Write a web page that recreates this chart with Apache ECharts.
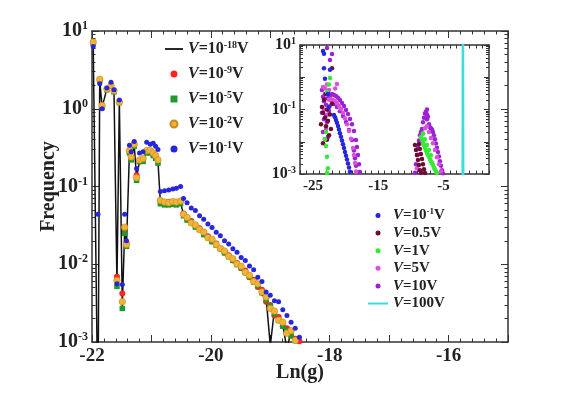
<!DOCTYPE html>
<html>
<head>
<meta charset="utf-8">
<script src="https://cdn.jsdelivr.net/npm/echarts@6/dist/echarts.min.js"></script>
<style>
  html, body { margin: 0; padding: 0; background: #fff; }
  #chart { width: 573px; height: 409px; }
</style>
</head>
<body>
<div id="chart"></div>
<script>
// Ln(g) bins of the main panel
const lnG = [-21.98, -21.9, -21.87, -21.83, -21.75, -21.68, -21.63, -21.58, -21.54, -21.49,
  -21.45, -21.42, -21.37, -21.34, -21.29, -21.25, -21.2, -21.14, -21.08, -21.02,
  -20.97, -20.93, -20.89, -20.85, -20.78, -20.71, -20.64, -20.58, -20.51, -20.46,
  -20.4, -20.33, -20.26, -20.19, -20.12, -20.05, -19.98, -19.91, -19.84, -19.77,
  -19.7, -19.63, -19.56, -19.49, -19.42, -19.35, -19.28, -19.21, -19.14, -19.07,
  -19.0, -18.93, -18.86, -18.79, -18.72, -18.65, -18.58, -18.51];

// frequencies, main panel
const v18 = [7.0, 0.0001, 2.3, 1.05, 1.8, 2.0, 1.7, 0.0055, 1.28, 0.0029,
  0.027, 0.017, 0.28, 0.23, 0.34, 0.13, 0.21, 0.22, 0.28, 0.28,
  0.26, 0.24, 0.21, 0.064, 0.061, 0.061, 0.062, 0.061, 0.063, 0.043,
  0.039, 0.035, 0.031, 0.028, 0.025, 0.022, 0.020, 0.018, 0.0155, 0.0146,
  0.0126, 0.0114, 0.0100, 0.0090, 0.0080, 0.0069, 0.0061, 0.0053, 0.0040, 0.0037,
  0.0009, 0.0026, 0.0019, 0.0017, 0.0008, 0.0014, 0.0009, null];
const v9 = [7.0, null, 2.3, 1.05, 1.8, 2.0, 1.68, 0.0069, 1.24, 0.0042,
  0.028, 0.019, 0.28, 0.23, 0.34, 0.14, 0.21, 0.22, 0.28, 0.28,
  0.26, 0.24, 0.21, 0.065, 0.062, 0.063, 0.063, 0.062, 0.064, 0.045,
  0.038, 0.036, 0.031, 0.029, 0.025, 0.023, 0.0198, 0.0185, 0.0158, 0.0142,
  0.0131, 0.0112, 0.0104, 0.0089, 0.0083, 0.0068, 0.0063, 0.0051, 0.0047, 0.0033,
  0.0030, 0.0022, 0.0021, 0.0016, 0.0015, 0.0012, 0.0011, 0.00102];
const v5 = [7.0, null, 2.3, 1.05, 1.75, 1.95, 1.65, 0.0052, 1.2, 0.0027,
  0.025, 0.017, 0.27, 0.22, 0.33, 0.12, 0.21, 0.21, 0.27, 0.27,
  0.25, 0.23, 0.2, 0.06, 0.058, 0.058, 0.059, 0.058, 0.06, 0.042,
  0.037, 0.035, 0.030, 0.028, 0.024, 0.022, 0.0195, 0.0176, 0.0159, 0.0140,
  0.0125, 0.0113, 0.0099, 0.0090, 0.0078, 0.0069, 0.0059, 0.0053, 0.0043, 0.0035,
  0.0029, 0.0023, 0.0019, 0.0016, 0.0014, 0.0012, 0.00104, null];
const v2 = [7.2, null, 2.4, 1.1, 1.8, 2.0, 1.7, 0.0062, 1.22, 0.0033,
  0.03, 0.018, 0.29, 0.24, 0.35, 0.13, 0.22, 0.23, 0.29, 0.29,
  0.27, 0.25, 0.22, 0.066, 0.063, 0.062, 0.064, 0.063, 0.065, 0.044,
  0.040, 0.034, 0.032, 0.028, 0.026, 0.022, 0.021, 0.018, 0.016, 0.0148,
  0.0127, 0.0118, 0.0101, 0.0094, 0.0079, 0.0072, 0.0060, 0.0056, 0.0044, 0.0038,
  0.0027, 0.0025, 0.0019, 0.0018, 0.0013, 0.0014, 0.00105, null];
const v1 = [6.3, 0.044, 2.1, 1.0, 1.85, 2.2, 1.75, 0.0056, 1.3, 0.0055,
  0.044, 0.02, 0.34, 0.28, 0.38, 0.17, 0.27, 0.28, 0.37, 0.35,
  0.36, 0.33, 0.30, 0.086, 0.088, 0.09, 0.093, 0.095, 0.1, 0.07,
  0.062, 0.053, 0.049, 0.042, 0.038, 0.033, 0.0297, 0.0258, 0.0233, 0.0201,
  0.0182, 0.0158, 0.0143, 0.0122, 0.0112, 0.0095, 0.0085, 0.0068, 0.0060, 0.0044,
  0.0040, 0.0034, 0.0033, 0.0026, 0.0022, 0.0018, 0.0015, 0.00115];

// inset: [Ln(g), frequency]
const insBlue = [[-23.47, 6.5], [-23.32, 5.4], [-23.32, 1.9], [-22.4, 1.7], [-23.17, 0.9],
  [-22.71, 0.3], [-22.55, 0.12],
  [-21.79, 0.068], [-21.63, 0.058], [-21.48, 0.047], [-21.33, 0.039], [-21.17, 0.031],
  [-21.02, 0.024], [-20.87, 0.0185], [-20.71, 0.0142], [-20.56, 0.0109], [-20.4, 0.0083],
  [-20.25, 0.0064], [-20.1, 0.0048], [-19.94, 0.0037], [-19.79, 0.0028], [-19.64, 0.0021],
  [-19.48, 0.0016], [-19.33, 0.00118]];
const insMaroon = [[-23.63, 0.12], [-23.47, 0.08], [-23.32, 0.2], [-23.17, 0.055], [-23.01, 0.03],
  [-22.86, 0.1], [-22.71, 0.045], [-22.55, 0.016], [-22.4, 0.07], [-22.25, 0.025],
  [-22.09, 0.15], [-23.78, 0.035], [-23.47, 0.009], [-22.86, 0.0115], [-22.09, 1.9], [-23.01, 0.3],
  [-9.36, 0.0079], [-9.2, 0.0055], [-9.05, 0.0039], [-8.9, 0.0027], [-8.75, 0.0019],
  [-8.6, 0.0013], [-8.44, 0.0011], [-8.75, 0.0085], [-8.6, 0.006], [-8.44, 0.0042],
  [-8.28, 0.0029], [-8.13, 0.002], [-7.98, 0.0014], [-7.83, 0.00107]];
const insGreen = [[-22.4, 0.95], [-22.55, 0.6], [-22.86, 0.35], [-23.01, 0.0074], [-22.86, 0.0034],
  [-22.71, 0.0015], [-22.86, 0.00107], [-23.17, 0.012], [-23.01, 0.02],
  [-8.44, 0.014], [-8.29, 0.012], [-8.13, 0.0091], [-7.98, 0.0078], [-7.83, 0.0064],
  [-7.67, 0.0054], [-7.52, 0.0045], [-7.37, 0.0039], [-7.21, 0.0034], [-7.06, 0.0029],
  [-6.91, 0.0025], [-6.75, 0.0022], [-6.6, 0.0019], [-6.45, 0.0016], [-6.29, 0.0014],
  [-6.14, 0.0012], [-5.99, 0.00107],
  [-8.13, 0.018], [-7.83, 0.012], [-7.52, 0.008], [-7.21, 0.0055], [-6.91, 0.0038]];
const insMagenta = [[-22.55, 0.2], [-22.25, 0.21], [-21.94, 0.197], [-21.63, 0.184], [-21.33, 0.16],
  [-21.02, 0.128], [-20.71, 0.103], [-20.4, 0.078], [-20.1, 0.054], [-19.79, 0.035],
  [-19.48, 0.0215], [-19.18, 0.0123], [-18.87, 0.0064], [-18.72, 0.0039], [-18.56, 0.0022],
  [-18.41, 0.0012],
  [-23.47, 0.5], [-23.17, 0.45], [-22.86, 0.6], [-22.55, 0.4], [-23.32, 0.1], [-22.71, 0.07],
  [-23.01, 0.025], [-22.4, 0.13], [-21.33, 0.62], [-21.6, 0.45],
  [-9.05, 0.0015], [-8.75, 0.004], [-8.44, 0.009], [-8.13, 0.018], [-7.83, 0.026],
  [-7.52, 0.03], [-7.21, 0.02], [-6.91, 0.013], [-6.6, 0.009], [-6.29, 0.0055],
  [-5.99, 0.0033], [-5.68, 0.002], [-5.37, 0.0012]];
const insPurple = [[-22.86, 8.1], [-22.09, 5.3], [-22.4, 3.4],
  [-22.4, 0.26], [-22.09, 0.3], [-21.79, 0.28], [-21.48, 0.26], [-21.17, 0.23], [-20.87, 0.197],
  [-20.56, 0.16], [-20.25, 0.128], [-19.94, 0.096], [-19.64, 0.072], [-19.33, 0.051],
  [-19.02, 0.035], [-18.72, 0.0215], [-18.41, 0.0113], [-18.26, 0.0069], [-18.1, 0.0039],
  [-17.95, 0.002], [-17.8, 0.00115],
  [-21.79, 0.148], [-21.33, 0.12], [-20.87, 0.089], [-20.4, 0.063], [-19.94, 0.041],
  [-19.48, 0.023], [-19.02, 0.0113], [-18.72, 0.0054], [-18.56, 0.0031], [-18.41, 0.0018],
  [-23.63, 0.4], [-23.47, 0.25], [-23.32, 0.18], [-23.17, 0.3], [-23.01, 0.14], [-22.86, 0.22],
  [-22.71, 0.35], [-22.55, 0.27], [-22.25, 0.2], [-23.63, 0.08], [-23.32, 0.05], [-23.01, 0.065],
  [-22.86, 0.04], [-22.55, 0.09], [-23.47, 0.02], [-23.17, 0.012], [-22.71, 0.014],
  [-9.36, 0.0011], [-9.21, 0.002], [-9.05, 0.0039], [-8.9, 0.0066], [-8.75, 0.011],
  [-8.59, 0.016], [-8.44, 0.02], [-8.29, 0.025], [-8.13, 0.04], [-7.98, 0.055],
  [-7.83, 0.075], [-7.67, 0.085], [-7.52, 0.1], [-7.52, 0.07], [-7.52, 0.05], [-7.37, 0.06],
  [-7.21, 0.035], [-7.06, 0.028], [-6.91, 0.026], [-6.75, 0.024], [-6.6, 0.02],
  [-6.45, 0.016], [-6.29, 0.012], [-6.14, 0.0088], [-5.99, 0.0065], [-5.83, 0.0048],
  [-5.68, 0.0035], [-5.53, 0.0025], [-5.37, 0.0018], [-5.22, 0.0013], [-5.07, 0.00105]];
const insCyan = [[-2.05, 0.0001], [-2.0, 30], [-1.95, 0.0001]];

const legendMain = ['V=10^-18V', 'V=10^-9V', 'V=10^-5V', 'V=10^-2V', 'V=10^-1V'];
const legendInset = ['V=10^-1V', 'V=0.5V', 'V=1V', 'V=5V', 'V=10V', 'V=100V'];

const FONT = '"Liberation Serif", "Times New Roman", serif';
const INK = '#222';
const FRAME = '#333';

function richName(name) {
  const m = name.match(/^V=10\^(-?\d+)V$/);
  if (m) return '{i|V}{t|=10}{s|' + m[1] + '}{t|V}';
  return '{i|V}{t|' + name.slice(1) + '}';
}
function decade(v) {
  return Math.round(Math.log10(v));
}
function richSet(size, supSize) {
  return {
    b: { fontSize: size, fontWeight: 'bold', fontFamily: FONT, color: INK, lineHeight: size + 2 },
    s: { fontSize: supSize, fontWeight: 'bold', fontFamily: FONT, color: INK, verticalAlign: 'top', lineHeight: supSize }
  };
}

// minor log ticks (2..9 in each decade), in exponent units
const minorLogs = [];
for (let e = -3; e < 1; e++) {
  for (let m = 2; m <= 9; m++) minorLogs.push(e + Math.log10(m));
}

const tickStyle = { color: FRAME, width: 1 };
const lineStyle = { color: FRAME, width: 1.5 };

function xAxisPair(grid, min, max, len, labelFn, fontSize, name) {
  const base = {
    gridIndex: grid, type: 'value', min: min, max: max, interval: 1,
    axisLine: { onZero: false, lineStyle: lineStyle },
    axisTick: { inside: true, length: len, lineStyle: tickStyle },
    splitLine: { show: false }
  };
  const bottom = Object.assign({}, base, {
    position: 'bottom',
    axisLabel: {
      formatter: labelFn, fontSize: fontSize, fontWeight: 'bold', fontFamily: FONT,
      color: INK, margin: 5
    }
  });
  const top = Object.assign({}, base, { position: 'top', axisLabel: { show: false } });
  if (grid === 0) {
    bottom.minorTick = { show: true, splitNumber: 5, length: 3.5, lineStyle: tickStyle };
    top.minorTick = { show: true, splitNumber: 5, length: 3.5, lineStyle: tickStyle };
  }
  if (name) {
    bottom.name = name;
    bottom.nameLocation = 'middle';
    bottom.nameGap = 21;
    bottom.nameMoveOverlap = false;
    bottom.nameTextStyle = { fontSize: 20, fontWeight: 'bold', fontFamily: FONT, color: INK };
  }
  return [bottom, top];
}

function yAxes(grid, len, minorLen, labelFn, fontSize, supSize, name) {
  const major = {
    gridIndex: grid, type: 'log', logBase: 10, min: 0.001, max: 10,
    axisLine: { onZero: false, lineStyle: lineStyle },
    axisTick: { inside: true, length: len, lineStyle: tickStyle },
    splitLine: { show: false }
  };
  const left = Object.assign({}, major, {
    position: 'left',
    axisLabel: { formatter: labelFn, rich: richSet(fontSize, supSize), margin: 4 }
  });
  if (name) {
    left.name = name;
    left.nameLocation = 'middle';
    left.nameGap = 33;
    left.nameMoveOverlap = false;
    left.nameTextStyle = { fontSize: 20, fontWeight: 'bold', fontFamily: FONT, color: INK };
  }
  const right = Object.assign({}, major, { position: 'right', axisLabel: { show: false } });
  const minor = {
    gridIndex: grid, type: 'value', min: -3, max: 1,
    axisLine: { show: false, onZero: false },
    axisTick: { inside: true, length: minorLen, lineStyle: tickStyle, customValues: minorLogs },
    axisLabel: { show: false },
    splitLine: { show: false }
  };
  return [left, right,
    Object.assign({}, minor, { position: 'left' }),
    Object.assign({}, minor, { position: 'right' })];
}

const pairs = arr => lnG.map((x, i) => [x, arr[i]]);

function mainScatter(name, data, symbol, size, color, border) {
  return {
    name: name, type: 'scatter', xAxisIndex: 0, yAxisIndex: 0,
    symbol: symbol, symbolSize: size, data: pairs(data),
    itemStyle: { color: color, borderColor: border || color, borderWidth: border ? 0.6 : 0, opacity: 1 }
  };
}
function insetScatter(name, data, color) {
  return {
    name: name, type: 'scatter', xAxisIndex: 2, yAxisIndex: 4,
    symbol: 'circle', symbolSize: 4.5, data: data,
    itemStyle: { color: color, opacity: 1 }
  };
}

const chart = echarts.init(document.getElementById('chart'), null, { renderer: 'canvas' });

const legendText = {
  fontWeight: 'bold', fontFamily: FONT, color: INK
};
function legendRich(size, sup) {
  return {
    i: { fontSize: size, fontWeight: 'bold', fontStyle: 'italic', fontFamily: FONT, color: INK, lineHeight: size + 2 },
    t: { fontSize: size, fontWeight: 'bold', fontFamily: FONT, color: INK, lineHeight: size + 2 },
    s: { fontSize: sup, fontWeight: 'bold', fontFamily: FONT, color: INK, verticalAlign: 'top', lineHeight: sup }
  };
}
const lineIcon = 'path://M0,0 H20 V2 H0 Z';
const squareIcon = 'path://M0,0 H10 V10 H0 Z';

chart.setOption({
  animation: false,
  backgroundColor: '#fff',
  grid: [
    { left: 92, top: 31, width: 416, height: 311 },
    { left: 300, top: 45, width: 189, height: 129 }
  ],
  xAxis: [].concat(
    xAxisPair(0, -22, -15, 7, v => (Math.abs(Math.round(v)) % 2 === 0 ? String(Math.round(v)) : ''), 19, 'Ln(g)'),
    xAxisPair(1, -27, 2, 3.5, v => ([-25, -15, -5].indexOf(Math.round(v)) >= 0 ? String(Math.round(v)) : ''), 15, null)
  ),
  yAxis: [].concat(
    yAxes(0, 7, 3.5, v => '{b|10}{s|' + decade(v) + '}', 20, 12, 'Frequency'),
    yAxes(1, 5, 3, v => ([1, -1, -3].indexOf(decade(v)) >= 0 ? '{b|10}{s|' + decade(v) + '}' : ''), 16, 10, null)
  ),
  legend: [
    {
      data: legendMain.map((n, i) => (i === 0 ? { name: n, icon: lineIcon } : i === 2 ? { name: n, icon: squareIcon } : n)),
      orient: 'vertical', left: 165, top: 40,
      itemWidth: 18, itemHeight: 7, itemGap: 8, padding: 0,
      formatter: richName,
      textStyle: Object.assign({ fontSize: 16, rich: legendRich(16, 10) }, legendText)
    },
    {
      data: legendInset.map(n => (n === 'V=100V' ? { name: n, icon: lineIcon } : n)),
      orient: 'vertical', left: 368, top: 207,
      itemWidth: 20, itemHeight: 5, itemGap: 2.6, padding: 0,
      formatter: richName,
      textStyle: Object.assign({ fontSize: 15, rich: legendRich(15, 9) }, legendText)
    }
  ],
  series: [
    {
      name: 'V=10^-18V', type: 'line', xAxisIndex: 0, yAxisIndex: 0,
      data: pairs(v18), symbol: 'none', clip: true, z: 1,
      lineStyle: { color: '#111', width: 1.5 }, itemStyle: { color: '#111' }
    },
    mainScatter('V=10^-9V', v9, 'circle', 6, '#ff2222'),
    mainScatter('V=10^-5V', v5, 'rect', 5.5, '#1f9a2c'),
    mainScatter('V=10^-2V', v2, 'circle', 6.5, '#f2b436', '#c88a1c'),
    mainScatter('V=10^-1V', v1, 'circle', 5, '#2626dc'),
    insetScatter('V=10V', insPurple, '#9b22d4'),
    insetScatter('V=5V', insMagenta, '#dd4fdd'),
    insetScatter('V=0.5V', insMaroon, '#6e0b32'),
    insetScatter('V=1V', insGreen, '#35ea35'),
    insetScatter('V=10^-1V', insBlue, '#2626dc'),
    {
      name: 'V=100V', type: 'line', xAxisIndex: 2, yAxisIndex: 4,
      data: insCyan, symbol: 'none', clip: true,
      lineStyle: { color: '#3fdcdc', width: 2.5 }, itemStyle: { color: '#3fdcdc' }
    }
  ]
});
</script>
</body>
</html>
